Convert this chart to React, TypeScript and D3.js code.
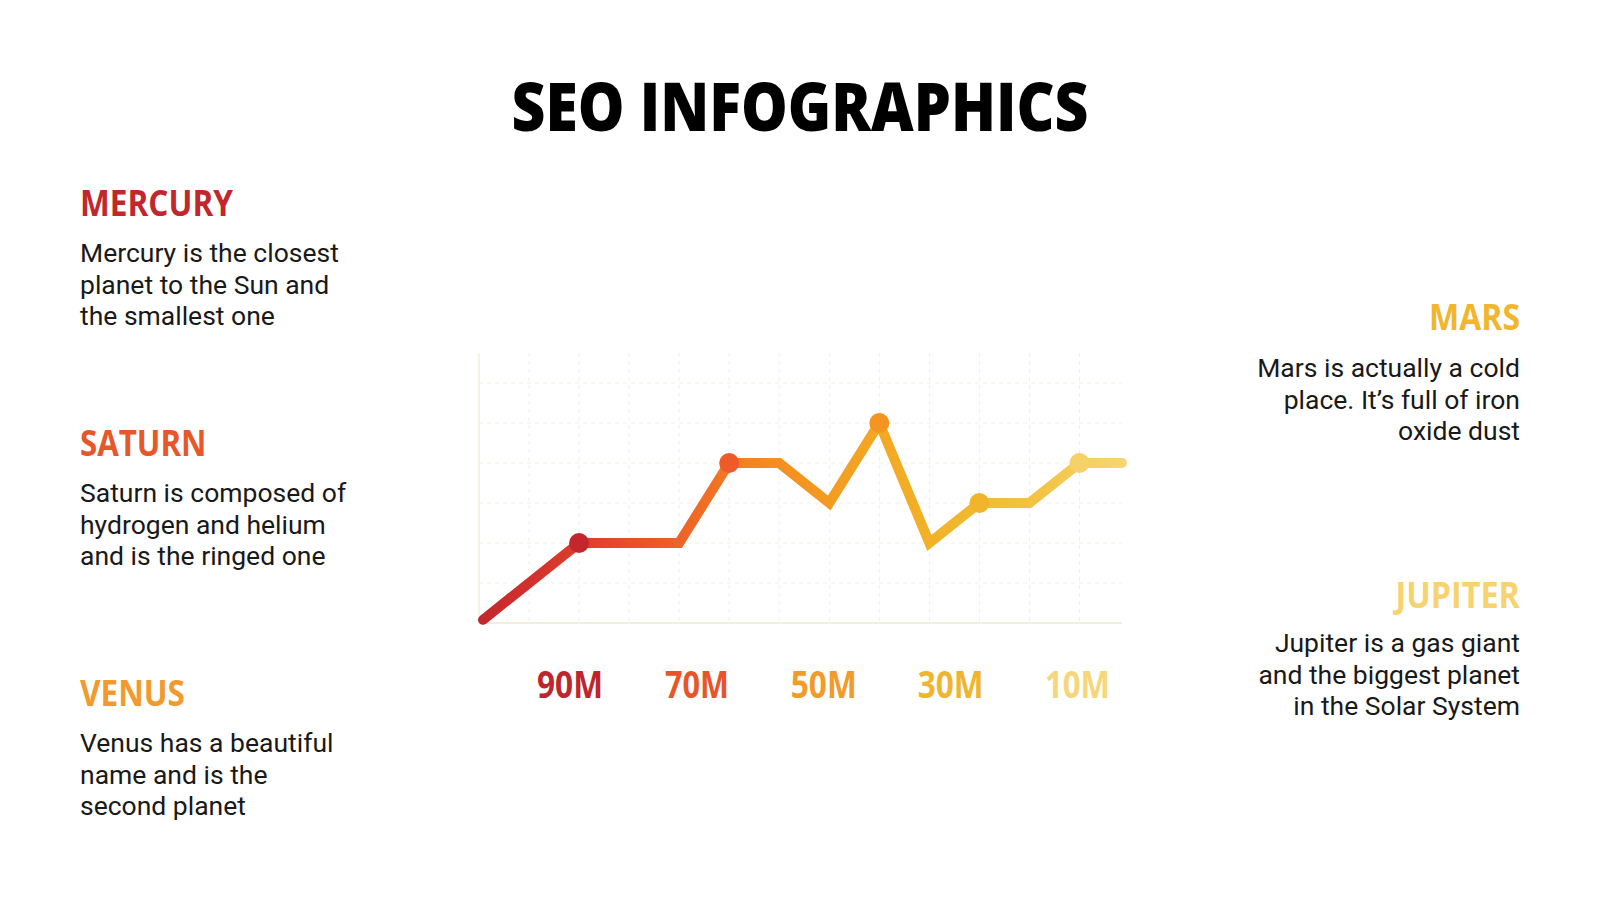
import React from "react";
import * as d3 from "d3";

const xSteps = [0.08, 2, 4, 5, 6, 7, 8, 9, 10, 11, 12, 12.85];
const values = [0.08, 2, 2, 4, 4, 3, 5, 2, 3, 3, 4, 4];
const dotIndex = [1, 3, 6, 8, 10];
const dotColors = ["#C4262E", "#EE5A28", "#F4951F", "#F1B52A", "#F6D168"];
const xLabels = ["90M", "70M", "50M", "30M", "10M"];
const xLabelColors = ["#BE262D", "#E8552A", "#F29A2A", "#EFB52E", "#F6D67A"];
const gridCols = d3.range(1, 13);
const gridRows = d3.range(1, 7);

const leftNames = ["MERCURY", "SATURN", "VENUS"];
const leftColors = ["#C1272D", "#E8572A", "#F29A2E"];
const leftBodies = [
  ["Mercury is the closest", "planet to the Sun and", "the smallest one"],
  ["Saturn is composed of", "hydrogen and helium", "and is the ringed one"],
  ["Venus has a beautiful", "name and is the", "second planet"],
];
const rightNames = ["MARS", "JUPITER"];
const rightColors = ["#F1B52E", "#F6D36E"];
const rightBodies = [
  ["Mars is actually a cold", "place. It’s full of iron", "oxide dust"],
  ["Jupiter is a gas giant", "and the biggest planet", "in the Solar System"],
];

const W = 1600;
const H = 900;
const headFont = "'Open Sans', 'DejaVu Sans', sans-serif";
const bodyFont = "Roboto, 'Noto Sans', sans-serif";

export default function App() {
  const x = d3.scaleLinear().domain([0, 12.85]).range([479, 1122]);
  const y = d3.scaleLinear().domain([0, 6.75]).range([623, 353]);
  const pts = xSteps.map((s, i) => [x(s), y(values[i])] as [number, number]);
  const line = d3.line<[number, number]>().x((d) => d[0]).y((d) => d[1]);
  const xl = d3.scalePoint<string>().domain(xLabels).range([570, 1077.5]);

  const leftHeadY = [216, 456, 706];
  const leftHeadW = [153, 126.5, 105];
  const leftBodyOff = [46, 46, 46];
  const rightHeadY = [330, 608];
  const rightHeadW = [91, 124.5];
  const rightBodyOff = [47, 44];
  const xLabelW = [66, 64, 66, 66, 65];
  const lh = 31.6;

  return (
    <svg width={W} height={H} style={{ position: "absolute", left: 0, top: 0, background: "#fff" }}>
      <defs>
        <linearGradient id="lg" gradientUnits="userSpaceOnUse" x1={479} y1={0} x2={1122} y2={0}>
          <stop offset="0" stopColor="#C4262E" />
          <stop offset="0.18" stopColor="#E2402B" />
          <stop offset="0.3" stopColor="#EE5F27" />
          <stop offset="0.45" stopColor="#F38C21" />
          <stop offset="0.6" stopColor="#F3A522" />
          <stop offset="0.75" stopColor="#F1B72C" />
          <stop offset="0.88" stopColor="#F3C545" />
          <stop offset="1" stopColor="#F6D674" />
        </linearGradient>
      </defs>
      <rect width={W} height={H} fill="#fff" />
      <text x={800} y={130.6} textAnchor="middle" fontFamily={headFont} fontWeight={800} fontSize={68}
        textLength={577} lengthAdjust="spacingAndGlyphs" fill="#000">SEO INFOGRAPHICS</text>

      <g>
        {gridCols.map((c) => (
          <line key={"v" + c} x1={x(c)} x2={x(c)} y1={y(6.75)} y2={y(0)} stroke="#F4EFE2" strokeWidth={1} strokeDasharray="4 4" />
        ))}
        {gridRows.map((r) => (
          <line key={"h" + r} x1={x(0)} x2={x(12.85)} y1={y(r)} y2={y(r)} stroke="#F4EFE2" strokeWidth={1} strokeDasharray="4 4" />
        ))}
        <line x1={x(0)} x2={x(0)} y1={y(6.75)} y2={y(0)} stroke="#F3EEDF" strokeWidth={1.5} />
        <line x1={x(0)} x2={x(12.85)} y1={y(0)} y2={y(0)} stroke="#F3EEDF" strokeWidth={2} />
      </g>

      <path d={line(pts) || ""} fill="none" stroke="url(#lg)" strokeWidth={10} strokeLinecap="round" strokeLinejoin="miter" />
      {dotIndex.map((di, i) => (
        <circle key={di} cx={pts[di][0]} cy={pts[di][1]} r={10} fill={dotColors[i]} />
      ))}

      {xLabels.map((l, i) => (
        <text key={l} x={xl(l)} y={698} textAnchor="middle" fontFamily={headFont} fontWeight={700} fontSize={38}
          textLength={xLabelW[i]} lengthAdjust="spacingAndGlyphs" fill={xLabelColors[i]}>{l}</text>
      ))}

      {leftNames.map((n, i) => (
        <g key={n}>
          <text x={80} y={leftHeadY[i]} fontFamily={headFont} fontWeight={700} fontSize={36}
            textLength={leftHeadW[i]} lengthAdjust="spacingAndGlyphs" fill={leftColors[i]}>{n}</text>
          {leftBodies[i].map((t, j) => (
            <text key={j} x={80} y={leftHeadY[i] + leftBodyOff[i] + j * lh} fontFamily={bodyFont} fontSize={26.5} fill="#191919">{t}</text>
          ))}
        </g>
      ))}
      {rightNames.map((n, i) => (
        <g key={n}>
          <text x={1520} y={rightHeadY[i]} textAnchor="end" fontFamily={headFont} fontWeight={700} fontSize={36}
            textLength={rightHeadW[i]} lengthAdjust="spacingAndGlyphs" fill={rightColors[i]}>{n}</text>
          {rightBodies[i].map((t, j) => (
            <text key={j} x={1520} y={rightHeadY[i] + rightBodyOff[i] + j * lh} textAnchor="end" fontFamily={bodyFont} fontSize={26.5} fill="#191919">{t}</text>
          ))}
        </g>
      ))}
    </svg>
  );
}
